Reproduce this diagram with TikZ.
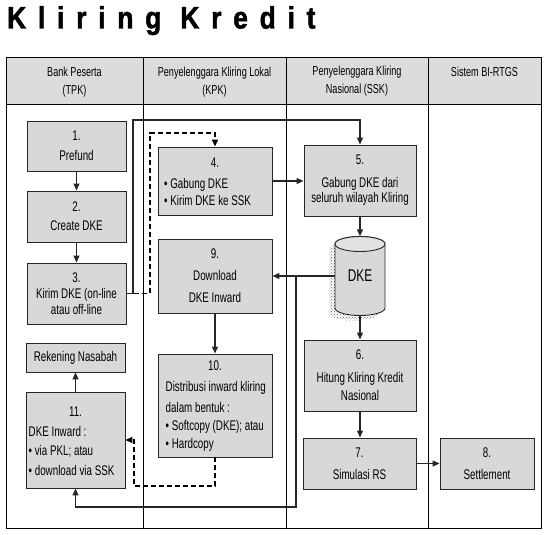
\documentclass[tikz,border=0pt]{standalone}
\usepackage{fontspec}
\setmainfont{Liberation Sans}[FakeStretch=0.7]
\newfontfamily\titlefont{Liberation Sans}[LetterSpace=38,FakeStretch=0.85,FakeBold=1.6]
\usetikzlibrary{arrows.meta,patterns,calc}
\definecolor{boxfill}{RGB}{216,216,216}
\definecolor{headfill}{RGB}{220,220,220}
\definecolor{topfill}{RGB}{226,226,226}
\tikzset{
  box/.style={draw=black!85, fill=boxfill, line width=0.9pt, inner sep=0pt, align=center,
    font=\fontsize{14}{16}\selectfont},
  txt/.style={inner sep=0pt, anchor=west, font=\fontsize{14}{16}\selectfont},
  ctxt/.style={inner sep=0pt, anchor=center, font=\fontsize{14}{16}\selectfont},
  head/.style={inner sep=0pt, align=center, font=\fontsize{13}{15}\selectfont},
  conn/.style={line width=1.2pt, draw=black!85, -{Triangle[length=7pt,width=6pt]}},
  dconn/.style={line width=1.6pt, draw=black, dash pattern=on 5pt off 3pt, -{Triangle[length=7pt,width=6pt]}},
  tline/.style={line width=0.9pt, draw=black},
}
\begin{document}
\begin{tikzpicture}[x=1pt,y=-1pt]
\useasboundingbox (0,0) rectangle (547,535);
% title
\node[anchor=base west, inner sep=0pt] (title) at (7,28.5) {\titlefont\bfseries\fontsize{31}{31}\selectfont Kliring Kredit};
% table
\fill[headfill] (6,57) rectangle (541,104);
\draw[tline] (6,57) rectangle (541,528);
\draw[tline] (6,104) -- (541,104);
\draw[tline] (143,57) -- (143,528);
\draw[tline] (286.5,57) -- (286.5,528);
\draw[tline] (428,57) -- (428,528);
\node[head] (h1) at (74.5,82) {Bank Peserta\\[3pt](TPK)};
\node[head] (h2) at (214.5,82) {Penyelenggara Kliring Lokal\\[3pt](KPK)};
\node[head] (h3) at (357,81) {Penyelenggara Kliring\\[3pt]Nasional (SSK)};
\node[head] (h4) at (484.5,72) {Sistem BI-RTGS};
% boxes column 1
\node[box, minimum width=99, minimum height=50] (b1) at (76.5,146) {1.\\[4pt]Prefund};
\node[box, minimum width=99, minimum height=51] (b2) at (76.5,216.5) {2.\\[3pt]Create DKE};
\node[box, minimum width=99, minimum height=61] (b3) at (76.5,293.5) {3.\\Kirim DKE (on-line\\atau off-line};
\node[box, minimum width=99, minimum height=29] (rek) at (75.5,357.5) {Rekening Nasabah};
\node[box, minimum width=99, minimum height=96] (b11) at (75.5,440) {};
\node[ctxt] (t11) at (75.5,411.7) {11.};
\node[txt] (t11a) at (28.5,431.7) {DKE Inward :};
\node[txt] (t11b) at (28.5,451.2) {\textbullet{} via PKL; atau};
\node[txt] (t11c) at (28.5,470) {\textbullet{} download via SSK};
% boxes column 2
\node[box, minimum width=114, minimum height=68] (b4) at (215,181) {};
\node[ctxt] (t4) at (215,163) {4.};
\node[txt] (t4a) at (164,185) {\textbullet{} Gabung DKE};
\node[txt] (t4b) at (164,200) {\textbullet{} Kirim DKE ke SSK};
\node[box, minimum width=114, minimum height=74] (b9) at (215,276) {9.\\[6pt]Download\\[6pt]DKE Inward};
\node[box, minimum width=114, minimum height=103] (b10) at (215,405.5) {};
\node[ctxt] (t10) at (215,366) {10.};
\node[txt] (t10a) at (165.5,388.3) {Distribusi inward kliring};
\node[txt] (t10b) at (165.5,407.3) {dalam bentuk :};
\node[txt] (t10c) at (165.5,426.5) {\textbullet{} Softcopy (DKE); atau};
\node[txt] (t10d) at (165.5,445) {\textbullet{} Hardcopy};
% boxes column 3
\node[box, minimum width=112, minimum height=71] (b5) at (360,180.5) {5.\\[7pt]Gabung DKE dari\\[-1pt]seluruh wilayah Kliring};
\node[box, minimum width=112, minimum height=71] (b6) at (360,375.5) {6.\\[7pt]Hitung Kliring Kredit\\[2pt]Nasional};
\node[box, minimum width=113, minimum height=51] (b7) at (359.5,463.5) {7.\\[6pt]Simulasi RS};
% column 4
\node[box, minimum width=94, minimum height=51] (b8) at (487,463.5) {8.\\[6pt]Settlement};
% cylinder DKE
\path[pattern=crosshatch dots, pattern color=black!65] (329,249) -- (329,313)
  arc[start angle=180,end angle=360,x radius=25pt,y radius=7.5pt] -- (379,249)
  arc[start angle=0,end angle=180,x radius=25pt,y radius=7.5pt] -- cycle;
\path[fill=boxfill, draw=black!85, line width=0.9pt] (335,244) -- (335,308)
  arc[start angle=180,end angle=360,x radius=25pt,y radius=7.5pt] -- (385,244)
  arc[start angle=0,end angle=180,x radius=25pt,y radius=7.5pt] -- cycle;
\draw[fill=topfill, draw=black!85, line width=0.9pt] (360,244) ellipse[x radius=25pt,y radius=7.5pt];
\node[inner sep=0pt, minimum width=50, minimum height=79, font=\fontsize{17}{17}\selectfont] (dke) at (360,276) {DKE};
% connectors
\coordinate (s1) at (133,120);
\coordinate (d1) at (150,133);
\coordinate (j1) at (296,276);
\coordinate (j2) at (75.5,507);
\coordinate (d2) at (134,486);
\draw[conn] (b1.south) -- (b2.north);
\draw[conn] (b2.south) -- (b3.north);
\draw[dconn] (b3.east) -| (d1) -| (b4.north);
\draw[conn] (b3.east) -| (s1) -| (b5.north);
\draw[conn] (b4.east) -- (b5.west |- b4.east);
\draw[conn] (b5.south) -- (dke.north);
\draw[conn] (dke.west) -- (b9.east);
\draw[conn] (j1) |- (j2) -- (b11.south);
\draw[conn] (dke.south) -- (b6.north);
\draw[conn] (b6.south) -- (b7.north -| b6.south);
\draw[conn] (b7.east) -- (b8.west);
\draw[conn] (b9.south) -- (b10.north);
\draw[dconn] (b10.south) |- (d2) |- (b11.east);
\draw[conn] (b11.north) -- (rek.south);
\end{tikzpicture}
\end{document}
